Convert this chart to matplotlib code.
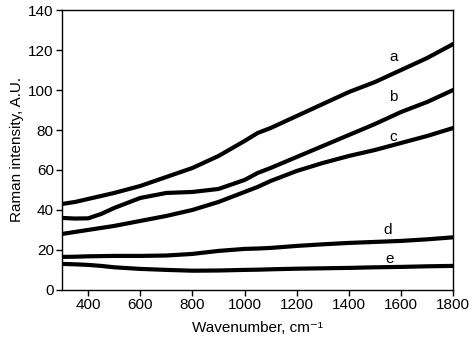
import matplotlib
matplotlib.use("Agg")
import matplotlib.pyplot as plt

plt.rcParams['font.family'] = ['Liberation Sans', 'DejaVu Sans']

# wavenumber grid (cm-1) and curves
wavenumber = [300, 350, 400, 450, 500, 600, 700, 800, 900, 1000, 1050, 1100, 1200, 1300, 1400, 1500, 1600, 1700, 1800]
curve_a = [43, 44, 45.5, 47, 48.5, 52, 56.5, 61, 67, 74.5, 78.5, 81, 87, 93, 99, 104, 110, 116, 123]
curve_b = [36, 35.7, 35.8, 38, 41, 46, 48.5, 49, 50.5, 55, 58.5, 61, 66.5, 72, 77.5, 83, 89, 94, 100]
curve_c = [28, 29, 30, 31, 32, 34.5, 37, 40, 44, 49, 51.5, 54.5, 59.5, 63.5, 67, 70, 73.5, 77, 81]
curve_d = [16.5, 16.6, 16.8, 16.9, 17, 17, 17.2, 18, 19.5, 20.5, 20.7, 21, 22, 22.8, 23.5, 24, 24.5, 25.3, 26.3]
curve_e = [13, 12.8, 12.5, 12, 11.3, 10.5, 10, 9.6, 9.7, 10, 10.1, 10.3, 10.6, 10.8, 11, 11.3, 11.5, 11.8, 12]

curves = [curve_a, curve_b, curve_c, curve_d, curve_e]
labels = ['a', 'b', 'c', 'd', 'e']
label_pos = [(1570, 116.5), (1570, 96.5), (1570, 76.5), (1550, 30), (1555, 15.5)]

fig = plt.figure(figsize=(4.74, 3.48), dpi=100)
ax = fig.add_axes([0.131, 0.167, 0.825, 0.804])

for y in curves:
    ax.plot(wavenumber, y, color='black', lw=3.0, solid_joinstyle='round')

for lab, (x, y) in zip(labels, label_pos):
    ax.text(x, y, lab, fontsize=11, ha='center', va='center')

ax.set_xlim(300, 1800)
ax.set_ylim(0, 140)
ax.set_xticks(range(400, 1801, 200))
ax.set_yticks(range(0, 141, 20))
ax.tick_params(direction='out', length=4, width=1, labelsize=11, top=False, right=False, pad=2)
for s in ax.spines.values():
    s.set_linewidth(1.0)

ax.set_xlabel('Wavenumber, cm\u207b\u00b9', fontsize=11, labelpad=6)
ax.set_ylabel('Raman intensity, A.U.', fontsize=11, labelpad=3)

fig.savefig('out.png', dpi=100)
